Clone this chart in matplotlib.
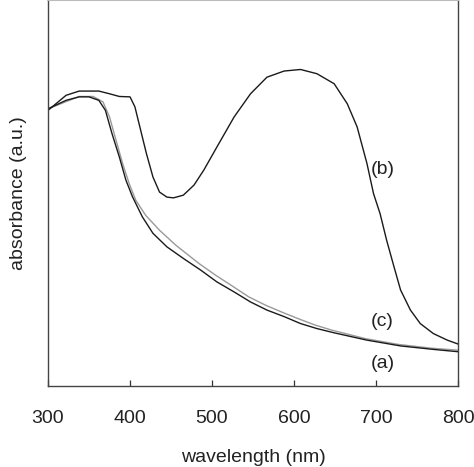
import matplotlib
matplotlib.use("Agg")
import matplotlib.pyplot as plt

# UV-vis absorbance spectra (arbitrary units)
wl_a = [300, 322, 338, 350, 362, 370, 378, 387, 395, 403, 415, 428, 445, 465,
        486, 506, 527, 547, 567, 588, 608, 628, 649, 689, 730, 770, 800]
abs_a = [0.719, 0.741, 0.750, 0.750, 0.741, 0.715, 0.655, 0.594, 0.534, 0.491,
         0.439, 0.396, 0.361, 0.331, 0.301, 0.270, 0.244, 0.218, 0.197, 0.180,
         0.162, 0.149, 0.138, 0.119, 0.104, 0.095, 0.089]

wl_b = [300, 322, 338, 362, 375, 387, 400, 406, 412, 420, 428, 436, 445, 453,
        465, 478, 490, 506, 527, 547, 567, 588, 608, 628, 649, 665, 677, 689,
        697, 705, 713, 722, 730, 742, 754, 770, 787, 800]
abs_b = [0.715, 0.754, 0.765, 0.765, 0.758, 0.751, 0.750, 0.724, 0.672, 0.603,
         0.542, 0.503, 0.490, 0.488, 0.495, 0.521, 0.560, 0.620, 0.698, 0.758,
         0.801, 0.817, 0.821, 0.810, 0.784, 0.732, 0.672, 0.577, 0.499, 0.447,
         0.378, 0.309, 0.249, 0.197, 0.162, 0.136, 0.119, 0.109]

wl_c = [300, 338, 355, 367, 375, 383, 391, 399, 407, 419, 436, 456, 484, 504,
        525, 545, 565, 586, 606, 626, 646, 687, 727, 768, 800]
abs_c = [0.719, 0.751, 0.751, 0.737, 0.698, 0.637, 0.577, 0.525, 0.482, 0.443,
         0.404, 0.365, 0.318, 0.288, 0.259, 0.231, 0.210, 0.191, 0.174, 0.158,
         0.145, 0.123, 0.108, 0.098, 0.093]

labels = ["(a)", "(b)", "(c)"]
label_pos = [(708, 0.059), (708, 0.562), (708, 0.167)]
x_ticks = [300, 400, 500, 600, 700, 800]

plt.rcParams['font.family'] = ['Liberation Sans', 'DejaVu Sans']

fig = plt.figure(figsize=(4.74, 4.67), dpi=100)
ax = fig.add_axes([0.1013, 0.1734, 0.8649, 0.8256])

ax.plot(wl_c, abs_c, color="#9a9a9a", lw=1.0)
ax.plot(wl_a, abs_a, color="#1a1a1a", lw=1.0)
ax.plot(wl_b, abs_b, color="#1a1a1a", lw=1.0)

for txt, (x, y) in zip(labels, label_pos):
    ax.text(x, y, txt, fontsize=14, ha="center", va="center", color="#222222")

ax.set_xlim(300, 800)
ax.set_ylim(0, 1)
ax.set_xticks(x_ticks)
ax.set_yticks([])
ax.tick_params(axis="x", direction="in", length=4.5, width=0.9,
               pad=17, labelsize=14, colors="#333333", labelcolor="#222222")

for side in ["left", "right", "bottom"]:
    ax.spines[side].set_color("#444444")
    ax.spines[side].set_linewidth(1.0)
ax.spines["top"].set_color("#bbbbbb")
ax.spines["top"].set_linewidth(1.5)

ax.set_xlabel("wavelength (nm)", fontsize=14, labelpad=16, color="#222222")
ax.set_ylabel("absorbance (a.u.)", fontsize=14, labelpad=15, color="#222222")

fig.savefig("out.png", dpi=100)
